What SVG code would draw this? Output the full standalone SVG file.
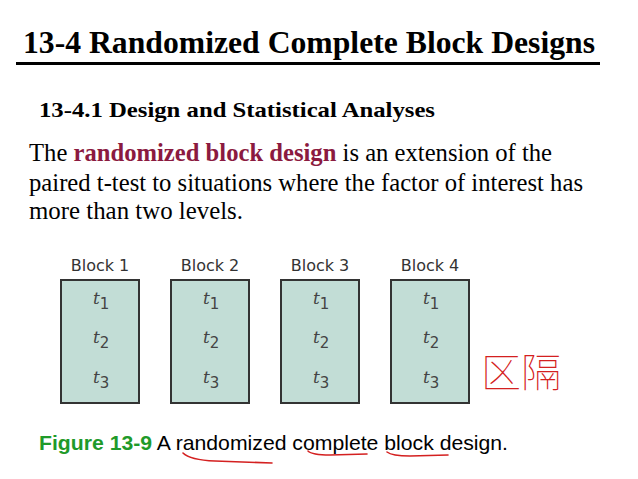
<svg xmlns="http://www.w3.org/2000/svg" width="638" height="479" viewBox="0 0 638 479">
<style>
.serif{font-family:"Liberation Serif","Times New Roman",serif;fill:#000}
.body{font-size:25px}
.blk rect{fill:#c2ddd6;stroke:#333;stroke-width:2}
.lbl{font-family:"DejaVu Sans","Liberation Sans",sans-serif;font-size:16px;fill:#333;text-anchor:middle}
.t{font-family:"DejaVu Serif",serif;font-style:italic;font-size:17px;fill:#444}
.sub{font-family:"DejaVu Sans",sans-serif;font-style:normal;font-size:15px}
.ink{fill:none;stroke:#d42020;stroke-width:1.6;stroke-linecap:round}
</style>
<rect width="638" height="479" fill="#fff"/>
<text class="serif" x="23" y="53" font-size="31" font-weight="bold" textLength="572" lengthAdjust="spacingAndGlyphs">13-4 Randomized Complete Block Designs</text>
<rect x="16" y="62" width="584" height="3" fill="#000"/>
<text class="serif" x="39" y="117" font-size="21.5" font-weight="bold" textLength="396" lengthAdjust="spacingAndGlyphs">13-4.1 Design and Statistical Analyses</text>
<text class="serif body" x="29" y="161" textLength="523" lengthAdjust="spacingAndGlyphs">The <tspan font-weight="bold" fill="#8b1a40">randomized block design</tspan> is an extension of the</text>
<text class="serif body" x="29" y="191" textLength="554" lengthAdjust="spacingAndGlyphs">paired t-test to situations where the factor of interest has</text>
<text class="serif body" x="29" y="219" textLength="214" lengthAdjust="spacingAndGlyphs">more than two levels.</text>

<g id="block1" class="blk">
<text class="lbl" x="100" y="271">Block 1</text>
<rect x="61" y="280" width="78" height="123"/>
<text class="t" x="93" y="304">t<tspan class="sub" dy="5">1</tspan></text>
<text class="t" x="93" y="343">t<tspan class="sub" dy="5">2</tspan></text>
<text class="t" x="93" y="383">t<tspan class="sub" dy="5">3</tspan></text>
</g>
<g id="block2" class="blk">
<text class="lbl" x="210" y="271">Block 2</text>
<rect x="171" y="280" width="78" height="123"/>
<text class="t" x="203" y="304">t<tspan class="sub" dy="5">1</tspan></text>
<text class="t" x="203" y="343">t<tspan class="sub" dy="5">2</tspan></text>
<text class="t" x="203" y="383">t<tspan class="sub" dy="5">3</tspan></text>
</g>
<g id="block3" class="blk">
<text class="lbl" x="320" y="271">Block 3</text>
<rect x="281" y="280" width="78" height="123"/>
<text class="t" x="313" y="304">t<tspan class="sub" dy="5">1</tspan></text>
<text class="t" x="313" y="343">t<tspan class="sub" dy="5">2</tspan></text>
<text class="t" x="313" y="383">t<tspan class="sub" dy="5">3</tspan></text>
</g>
<g id="block4" class="blk">
<text class="lbl" x="430" y="271">Block 4</text>
<rect x="391" y="280" width="78" height="123"/>
<text class="t" x="423" y="304">t<tspan class="sub" dy="5">1</tspan></text>
<text class="t" x="423" y="343">t<tspan class="sub" dy="5">2</tspan></text>
<text class="t" x="423" y="383">t<tspan class="sub" dy="5">3</tspan></text>
</g>

<text x="481" y="387" font-family="'Noto Sans CJK SC',sans-serif" font-size="40" font-weight="100" fill="#d42020">区隔</text>

<text x="39" y="450" font-family="'Liberation Sans',Arial,sans-serif" font-size="21" textLength="469" lengthAdjust="spacingAndGlyphs"><tspan font-weight="bold" fill="#1f9a2a">Figure 13-9</tspan><tspan fill="#000"> A randomized complete block design.</tspan></text>

<g id="underlines">
<path class="ink" d="M183,453 Q190,460 215,461 L272,463"/>
<path class="ink" d="M308,451 Q312,455 330,455 L367,454"/>
<path class="ink" d="M387,452 Q392,456 410,456 L448,455"/>
</g>
</svg>
